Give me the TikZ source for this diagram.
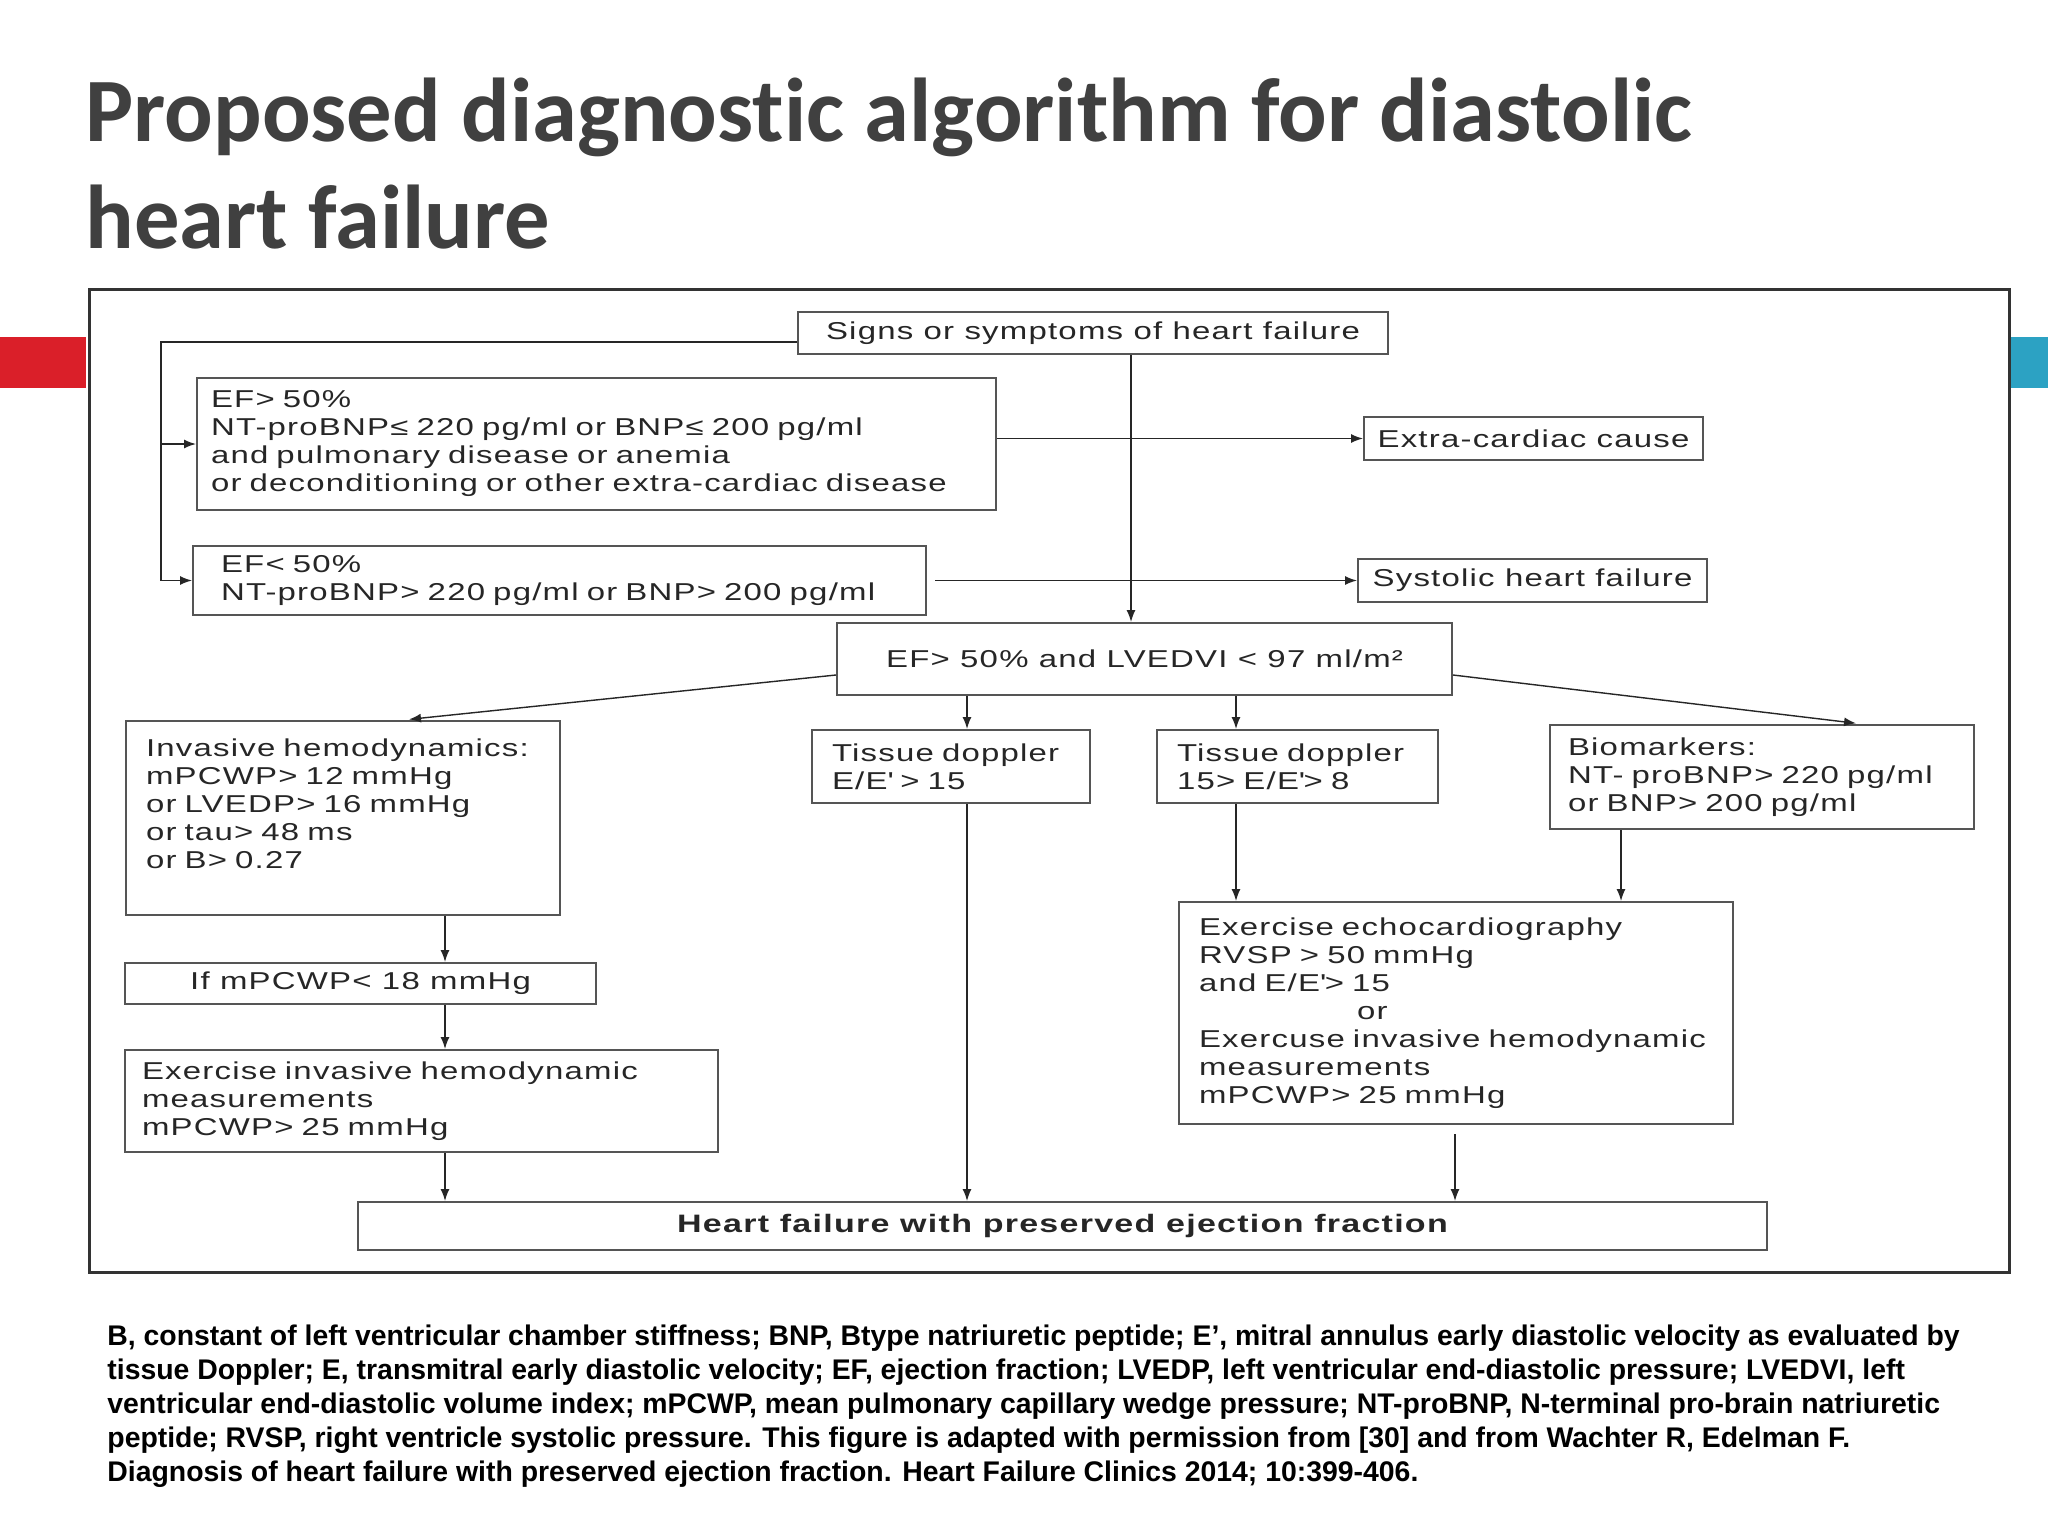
\documentclass[tikz,border=0pt]{standalone}
\usepackage{fontspec}
\usepackage{xcolor}
\usepackage{tikz}
\usetikzlibrary{arrows.meta, positioning, calc}
\newfontfamily\boxfont{Liberation Sans}[FakeStretch=1.35, LetterSpace=5]
\newfontfamily\titlefont{Carlito}[Ligatures=NoCommon]
\newfontfamily\notefont{Liberation Sans}
\definecolor{titlegray}{HTML}{404040}
\definecolor{framegray}{HTML}{333333}
\definecolor{boxline}{HTML}{555555}
\definecolor{inkgray}{HTML}{262626}
\definecolor{barred}{HTML}{DA1F29}
\definecolor{barteal}{HTML}{2CA2C3}

\begin{document}
\begin{tikzpicture}[
    x=0.5pt, y=-0.5pt,
    box/.style={draw=boxline, line width=1pt, fill=white, text=inkgray, align=left, anchor=north west, inner ysep=0pt, font={\boxfont\fontsize{12.2pt}{14pt}\selectfont}},
    cbox/.style={box, align=center, anchor=center},
    arrow/.style={-{Latex[length=6pt, width=4.5pt]}, line width=0.7pt, draw=black!85}
]
\useasboundingbox (0,0) rectangle (2048,1536);
\fill[white] (0,0) rectangle (2048,1536);

% slide decoration
\fill[barred] (0,337) rectangle (86,388);
\fill[barteal] (2011,337) rectangle (2048,388);
\draw[framegray, line width=1.5pt] (89,289) rectangle (2009,1272);

\node[anchor=base west, align=left, inner sep=0pt, text=titlegray, font={\titlefont\bfseries\fontsize{45.3pt}{53.5pt}\selectfont}] (title) at (85,248)
    {Proposed diagnostic algorithm for diastolic\\heart failure};

% first row
\node[cbox, minimum width=295pt, minimum height=21pt] (signs) at (1093,333) {Signs or symptoms of heart failure};
\node[box, inner xsep=7pt, text width=385.5pt, minimum height=66pt] (exclude) at (196,377)
    {EF> 50\%\\NT-proBNP≤ 220 pg/ml or BNP≤ 200 pg/ml\\and pulmonary disease or anemia\\or deconditioning or other extra-cardiac disease};
\node[cbox, minimum width=169.5pt, minimum height=21.5pt] (extra) at (1533.5,438.5) {Extra-cardiac cause};
\node[box, inner xsep=14pt, text width=338.5pt, minimum height=34.5pt] (lowef) at (192,545)
    {EF< 50\%\\NT-proBNP> 220 pg/ml or BNP> 200 pg/ml};
\node[cbox, minimum width=174.5pt, minimum height=21.5pt] (systolic) at (1532.5,580.5) {Systolic heart failure};
\node[cbox, minimum width=307.5pt, minimum height=36pt] (lvedvi) at (1144.5,659) {EF> 50\% and LVEDVI < 97 ml/m²};

% tests
\node[box, inner xsep=10pt, text width=197pt, minimum height=97pt] (invasive) at (125,720)
    {Invasive hemodynamics:\\mPCWP> 12 mmHg\\or LVEDP> 16 mmHg\\or tau> 48 ms\\or B> 0.27\\\mbox{}};
\node[box, inner xsep=10pt, text width=119pt, minimum height=36.5pt] (tdhigh) at (811,729)
    {Tissue doppler\\E/E\textquotesingle{} > 15};
\node[box, inner xsep=10pt, text width=120.5pt, minimum height=36.5pt] (tdmid) at (1156,729)
    {Tissue doppler\\15> E/E\textquotesingle> 8};
\node[box, inner xsep=9pt, text width=194pt, minimum height=52pt] (biomark) at (1549,724)
    {Biomarkers:\\NT- proBNP> 220 pg/ml\\or BNP> 200 pg/ml};
\node[cbox, minimum width=235.5pt, minimum height=20.5pt] (mpcwp) at (360.5,983.5) {If mPCWP< 18 mmHg};
\node[box, inner xsep=8.5pt, text width=279.5pt, minimum height=51pt] (exinv) at (124,1049)
    {Exercise invasive hemodynamic\\measurements\\mPCWP> 25 mmHg};
\node[box, inner xsep=10pt, text width=257pt, minimum height=111pt] (execho) at (1178,901)
    {Exercise echocardiography\\RVSP > 50 mmHg\\and E/E\textquotesingle> 15\\\hspace*{79pt}or\\Exercuse invasive hemodynamic\\measurements\\mPCWP> 25 mmHg};
\node[cbox, minimum width=704.5pt, minimum height=24pt, font={\boxfont\bfseries\fontsize{12.6pt}{14pt}\selectfont}] (hfpef) at (1062.5,1226)
    {Heart failure with preserved ejection fraction};

% connector columns
\coordinate (trunk) at (161,0);
\coordinate (sigx) at (1131,0);
\coordinate (invx) at (445,0);
\coordinate (tdx) at (967,0);
\coordinate (tdy) at (1236,0);
\coordinate (echox) at (1455,0);
\coordinate (biox) at (1621,0);

\draw[arrow] ([yshift=-4.5pt]signs.west) -| (trunk |- lowef.west) -- (lowef.west);
\draw[arrow] (trunk |- exclude.west) -- (exclude.west);
\draw[arrow] (exclude.east |- extra.west) -- (extra.west);
\draw[arrow] ($(lowef.east |- systolic.west)+(8,0)$) -- (systolic.west);
\draw[arrow] (signs.south -| sigx) -- (lvedvi.north -| sigx);
\draw[arrow, shorten >=3pt] ([yshift=-8pt]lvedvi.west) -- ([xshift=30pt]invasive.north);
\draw[arrow, shorten >=3pt] ([yshift=-8pt]lvedvi.east) -- ([xshift=50pt]biomark.north);
\draw[arrow] (lvedvi.south -| tdx) -- (tdhigh.north -| tdx);
\draw[arrow] (lvedvi.south -| tdy) -- (tdmid.north -| tdy);
\draw[arrow] (invasive.south -| invx) -- (mpcwp.north -| invx);
\draw[arrow] (mpcwp.south -| invx) -- (exinv.north -| invx);
\draw[arrow] (exinv.south -| invx) -- (hfpef.north -| invx);
\draw[arrow] (tdhigh.south -| tdx) -- (hfpef.north -| tdx);
\draw[arrow] (tdmid.south -| tdy) -- (execho.north -| tdy);
\draw[arrow] (biomark.south -| biox) -- (execho.north -| biox);
\draw[arrow] ($(execho.south -| echox)+(0,9)$) -- (hfpef.north -| echox);

\node[anchor=base west, align=left, inner sep=0pt, font={\notefont\bfseries\fontsize{14.2pt}{17pt}\selectfont}] (note) at (107,1481)
    {B, constant of left ventricular chamber stiffness; BNP, Btype natriuretic peptide; E’, mitral annulus early diastolic velocity as evaluated by\\
    tissue Doppler; E, transmitral early diastolic velocity; EF, ejection fraction; LVEDP, left ventricular end-diastolic pressure; LVEDVI, left\\
    ventricular end-diastolic volume index; mPCWP, mean pulmonary capillary wedge pressure; NT-proBNP, N-terminal pro-brain natriuretic\\
    peptide; RVSP, right ventricle systolic pressure. This figure is adapted with permission from [30] and from Wachter R, Edelman F.\\
    Diagnosis of heart failure with preserved ejection fraction. Heart Failure Clinics 2014; 10:399-406.};
\end{tikzpicture}
\end{document}
